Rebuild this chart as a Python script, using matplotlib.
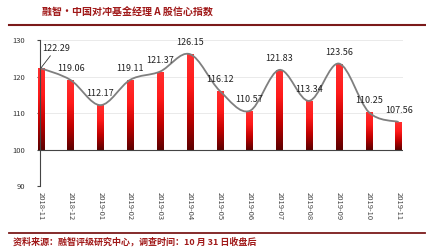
import numpy as np
import matplotlib
matplotlib.use('Agg')
import matplotlib.pyplot as plt
from matplotlib.path import Path
from matplotlib.patches import PathPatch
from matplotlib.colors import LinearSegmentedColormap

plt.rcParams['font.family'] = ['Noto Sans CJK SC', 'DejaVu Sans']

months = ['2018-11', '2018-12', '2019-01', '2019-02', '2019-03', '2019-04', '2019-05',
          '2019-06', '2019-07', '2019-08', '2019-09', '2019-10', '2019-11']
index_vals = [122.29, 119.06, 112.17, 119.11, 121.37, 126.15, 116.12,
              110.57, 121.83, 113.34, 123.56, 110.25, 107.56]
yticks = [90, 100, 110, 120, 130]

title = '融智•中国对冲基金经理 A 股信心指数'
source = '资料来源：融智评级研究中心，调查时间：10 月 31 日收盘后'

dark_red = '#7b1a1a'

fig = plt.figure(figsize=(4.27, 2.49), dpi=100)
ax = fig.add_axes([0.094, 0.253, 0.85, 0.586])

x = np.arange(len(index_vals))
y = np.array(index_vals)
base = 100

# red gradient bars
cmap = LinearSegmentedColormap.from_list('redbar', ['#5a0000', '#c00000', '#ff1a1a', '#ff3030'])
bars = ax.bar(x, y - base, bottom=base, width=0.21, color='none', edgecolor='none', zorder=2)
grad = np.linspace(0, 1, 256).reshape(-1, 1)
for b in bars:
    x0, y0 = b.get_x(), b.get_y()
    w, h = b.get_width(), b.get_height()
    im = ax.imshow(grad, cmap=cmap, extent=[x0, x0 + w, y0, y0 + h],
                   origin='lower', aspect='auto', zorder=2)
    im.set_clip_path(b)

# smooth line through the tops (Catmull-Rom as cubic Bezier segments)
verts = [(x[0], y[0])]
codes = [Path.MOVETO]
n = len(x)
for i in range(n - 1):
    p0 = np.array([x[max(i - 1, 0)], y[max(i - 1, 0)]])
    p1 = np.array([x[i], y[i]])
    p2 = np.array([x[i + 1], y[i + 1]])
    p3 = np.array([x[min(i + 2, n - 1)], y[min(i + 2, n - 1)]])
    c1 = p1 + (p2 - p0) / 6
    c2 = p2 - (p3 - p1) / 6
    verts += [tuple(c1), tuple(c2), tuple(p2)]
    codes += [Path.CURVE4] * 3
ax.add_patch(PathPatch(Path(verts, codes), facecolor='none', edgecolor='#7f7f7f',
                       lw=1.3, zorder=3))

for i, (xi, yi) in enumerate(zip(x, y)):
    if i == 0:
        ax.annotate(f'{yi:.2f}', (xi, yi), xytext=(1, 11), textcoords='offset points',
                    ha='left', va='bottom', fontsize=6.5, color='#222222', zorder=4,
                    arrowprops=dict(arrowstyle='-', color='#333333', lw=0.6,
                                    shrinkA=0, shrinkB=0))
    else:
        ax.annotate(f'{yi:.2f}', (xi, yi), xytext=(0, 5), textcoords='offset points',
                    ha='center', va='bottom', fontsize=6.5, color='#222222', zorder=4)

ax.set_xlim(-0.02, 12.15)
ax.set_ylim(90, 130)
ax.set_yticks(yticks)
ax.set_yticklabels([str(t) for t in yticks], fontsize=5.5, color='#333333')
ax.set_xticks(x)
ax.set_xticklabels(months, rotation=-90, fontsize=5.5, color='#444444')
ax.tick_params(axis='x', length=0, pad=4)
ax.tick_params(axis='y', length=2, pad=9, color='#444444')
for s in ['top', 'right', 'bottom']:
    ax.spines[s].set_visible(False)
ax.spines['left'].set_color('#444444')
ax.spines['left'].set_linewidth(0.8)
for t in [110, 120, 130]:
    ax.axhline(t, color='#e6e6e6', lw=0.6, zorder=0)
ax.axhline(100, color='#444444', lw=0.8, zorder=3)

fig.text(0.098, 0.955, title, ha='left', va='center', fontsize=7.2,
         fontweight='bold', color='#a01818')
fig.add_artist(plt.Line2D([0.02, 1.0], [0.899, 0.899], color=dark_red, lw=1.5))
fig.add_artist(plt.Line2D([0.02, 0.995], [0.064, 0.064], color=dark_red, lw=1.3))
fig.text(0.03, 0.03, source, ha='left', va='center', fontsize=6.5,
         fontweight='bold', color='#a01818')

fig.savefig('out.png', dpi=100)
